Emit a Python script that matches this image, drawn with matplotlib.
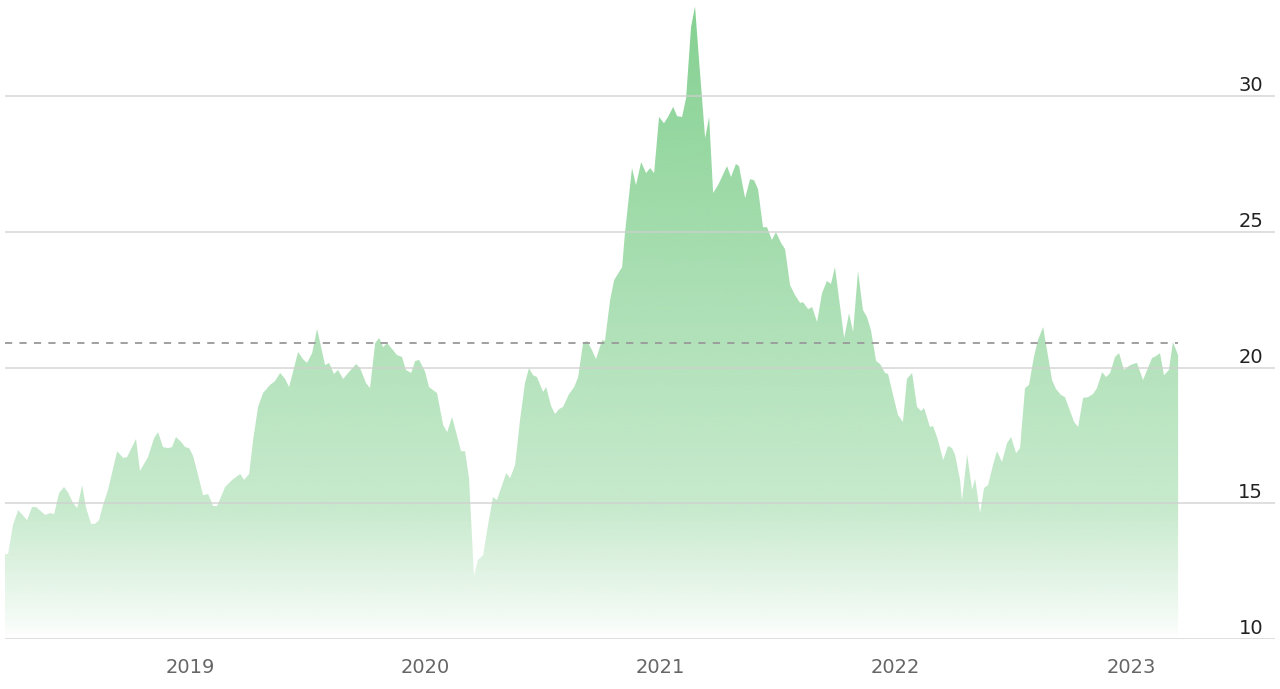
import numpy as np
import matplotlib
matplotlib.use("Agg")
import matplotlib.pyplot as plt
from matplotlib.colors import to_rgb

# weekly values, x as fractional year
years = [
    2018.213, 2018.226, 2018.247, 2018.269, 2018.307, 2018.328, 2018.345, 2018.384, 2018.405, 2018.422,
    2018.443, 2018.464, 2018.481, 2018.503, 2018.520, 2018.541, 2018.558, 2018.579, 2018.596, 2018.613,
    2018.630, 2018.651, 2018.690, 2018.715, 2018.732, 2018.770, 2018.787, 2018.809, 2018.821, 2018.847,
    2018.864, 2018.885, 2018.906, 2018.923, 2018.940, 2018.962, 2018.979, 2018.996, 2019.013, 2019.034,
    2019.055, 2019.077, 2019.098, 2019.115, 2019.149, 2019.179, 2019.213, 2019.230, 2019.251, 2019.268,
    2019.289, 2019.310, 2019.340, 2019.361, 2019.383, 2019.404, 2019.421, 2019.459, 2019.480, 2019.497,
    2019.519, 2019.540, 2019.574, 2019.591, 2019.612, 2019.629, 2019.651, 2019.672, 2019.706, 2019.723,
    2019.748, 2019.765, 2019.787, 2019.804, 2019.821, 2019.838, 2019.863, 2019.880, 2019.901, 2019.918,
    2019.940, 2019.957, 2019.974, 2019.999, 2020.016, 2020.050, 2020.076, 2020.093, 2020.114, 2020.131,
    2020.152, 2020.169, 2020.186, 2020.207, 2020.224, 2020.246, 2020.263, 2020.288, 2020.305, 2020.344,
    2020.361, 2020.382, 2020.403, 2020.424, 2020.441, 2020.458, 2020.475, 2020.501, 2020.514, 2020.535,
    2020.552, 2020.569, 2020.586, 2020.611, 2020.633, 2020.650, 2020.671, 2020.688, 2020.709, 2020.726,
    2020.752, 2020.764, 2020.786, 2020.803, 2020.837, 2020.849, 2020.879, 2020.896, 2020.918, 2020.939,
    2020.956, 2020.973, 2020.994, 2021.015, 2021.032, 2021.054, 2021.071, 2021.092, 2021.109, 2021.130,
    2021.147, 2021.164, 2021.190, 2021.207, 2021.224, 2021.245, 2021.283, 2021.300, 2021.321, 2021.334,
    2021.360, 2021.381, 2021.398, 2021.415, 2021.436, 2021.453, 2021.474, 2021.491, 2021.513, 2021.530,
    2021.551, 2021.572, 2021.594, 2021.606, 2021.628, 2021.645, 2021.666, 2021.687, 2021.708, 2021.725,
    2021.742, 2021.781, 2021.802, 2021.819, 2021.840, 2021.861, 2021.878, 2021.895, 2021.917, 2021.934,
    2021.955, 2021.968, 2021.989, 2022.010, 2022.031, 2022.048, 2022.070, 2022.091, 2022.108, 2022.121,
    2022.146, 2022.159, 2022.180, 2022.202, 2022.223, 2022.240, 2022.253, 2022.274, 2022.282, 2022.304,
    2022.325, 2022.338, 2022.359, 2022.376, 2022.393, 2022.414, 2022.431, 2022.452, 2022.474, 2022.491,
    2022.512, 2022.529, 2022.550, 2022.567, 2022.588, 2022.605, 2022.627, 2022.665, 2022.682, 2022.703,
    2022.720, 2022.737, 2022.759, 2022.776, 2022.797, 2022.818, 2022.839, 2022.856, 2022.878, 2022.895,
    2022.912, 2022.933, 2022.950, 2022.971, 2022.992, 2023.009, 2023.026, 2023.052, 2023.090, 2023.107,
    2023.124, 2023.141, 2023.162, 2023.179, 2023.201,
]
values = [
    13.13, 13.13, 14.20, 14.75, 14.38, 14.86, 14.86, 14.57, 14.64, 14.60,
    15.38, 15.60, 15.40, 15.00, 14.82, 15.67, 14.82, 14.24, 14.24, 14.38,
    14.94, 15.49, 16.92, 16.67, 16.70, 17.37, 16.19, 16.52, 16.70, 17.40,
    17.62, 17.07, 17.03, 17.07, 17.44, 17.26, 17.07, 17.03, 16.74, 16.04,
    15.30, 15.34, 14.90, 14.90, 15.60, 15.86, 16.08, 15.86, 16.08, 17.33,
    18.55, 19.06, 19.36, 19.50, 19.80, 19.58, 19.28, 20.57, 20.31, 20.17,
    20.53, 21.42, 20.09, 20.17, 19.76, 19.91, 19.58, 19.80, 20.13, 19.98,
    19.43, 19.24, 20.90, 21.09, 20.75, 20.90, 20.64, 20.46, 20.39, 19.91,
    19.80, 20.24, 20.28, 19.85, 19.28, 19.06, 17.88, 17.62, 18.18, 17.62,
    16.92, 16.92, 15.93, 12.32, 12.91, 13.09, 14.00, 15.23, 15.12, 16.11,
    15.93, 16.41, 18.07, 19.43, 19.98, 19.72, 19.65, 19.10, 19.28, 18.58,
    18.29, 18.47, 18.55, 19.02, 19.28, 19.65, 20.90, 20.98, 20.64, 20.31,
    21.01, 20.98, 22.49, 23.22, 23.70, 24.95, 27.35, 26.72, 27.57, 27.16,
    27.35, 27.16, 29.23, 29.00, 29.23, 29.60, 29.26, 29.23, 29.93, 32.54,
    33.30, 31.33, 28.45, 29.23, 26.43, 26.72, 27.42, 27.02, 27.50, 27.42,
    26.24, 26.94, 26.90, 26.57, 25.17, 25.17, 24.70, 24.99, 24.59, 24.36,
    23.04, 22.67, 22.38, 22.41, 22.15, 22.23, 21.68, 22.74, 23.19, 23.08,
    23.70, 21.09, 22.00, 21.31, 23.55, 22.12, 21.86, 21.38, 20.24, 20.13,
    19.80, 19.76, 18.99, 18.25, 17.99, 19.58, 19.80, 18.55, 18.40, 18.51,
    17.81, 17.85, 17.33, 16.59, 17.11, 17.03, 16.78, 15.86, 15.10, 16.80,
    15.50, 15.90, 14.64, 15.56, 15.67, 16.41, 16.92, 16.52, 17.22, 17.44,
    16.85, 17.03, 19.24, 19.36, 20.39, 21.01, 21.49, 19.54, 19.21, 18.99,
    18.91, 18.51, 17.99, 17.81, 18.88, 18.91, 19.02, 19.24, 19.83, 19.65,
    19.80, 20.39, 20.53, 19.91, 20.06, 20.13, 20.17, 19.54, 20.35, 20.42,
    20.53, 19.72, 19.91, 20.94, 20.46,
]
ref_level = 20.9
y_ticks = [10, 15, 20, 25, 30]
x_ticks = [2019, 2020, 2021, 2022, 2023]
x_labels = ["2019", "2020", "2021", "2022", "2023"]

GREEN = "#6ec87d"
Y_MIN, Y_MAX = 10, 33.54
X_MAX = 2023.613

fig = plt.figure(figsize=(12.8, 6.89), dpi=100)
ax = fig.add_axes([5 / 1280, 50 / 689, 1270 / 1280, 639 / 689])
ax.set_xlim(years[0], X_MAX)
ax.set_ylim(Y_MIN, Y_MAX)
for s in ax.spines.values():
    s.set_visible(False)

# gradient fill clipped to the area under the curve
poly = ax.fill_between(years, values, Y_MIN, facecolor="none", edgecolor="none")
f = np.linspace(0, 1, 400)
alpha = np.interp(f, [0, 0.03, 0.2, 1.0], [0.0, 0.08, 0.38, 0.85])
grad = np.zeros((400, 1, 4))
grad[:, 0, :3] = to_rgb(GREEN)
grad[:, 0, 3] = alpha
im = ax.imshow(grad, extent=[years[0], years[-1], Y_MIN, Y_MAX], origin="lower",
               aspect="auto", interpolation="bilinear", zorder=1)
im.set_clip_path(poly.get_paths()[0], transform=ax.transData)

# horizontal grid + right side labels
for v in y_ticks:
    ax.axhline(v, color="#cfcfcf", lw=1.2, alpha=0.8, zorder=2)
    ax.annotate(str(v), xy=(0.9906, v), xycoords=("axes fraction", "data"),
                xytext=(0, 0.6), textcoords="offset points",
                ha="right", va="bottom", fontsize=14, color="#222222")

ax.hlines(ref_level, years[0], years[-1], colors="#999999", lw=1.3,
          linestyles=(0, (4, 4)), zorder=3)

ax.set_yticks([])
ax.set_xticks(x_ticks)
ax.set_xticklabels(x_labels)
ax.tick_params(axis="x", length=0, pad=13.5, labelsize=14, labelcolor="#666666")

fig.savefig("out.png", dpi=100)
